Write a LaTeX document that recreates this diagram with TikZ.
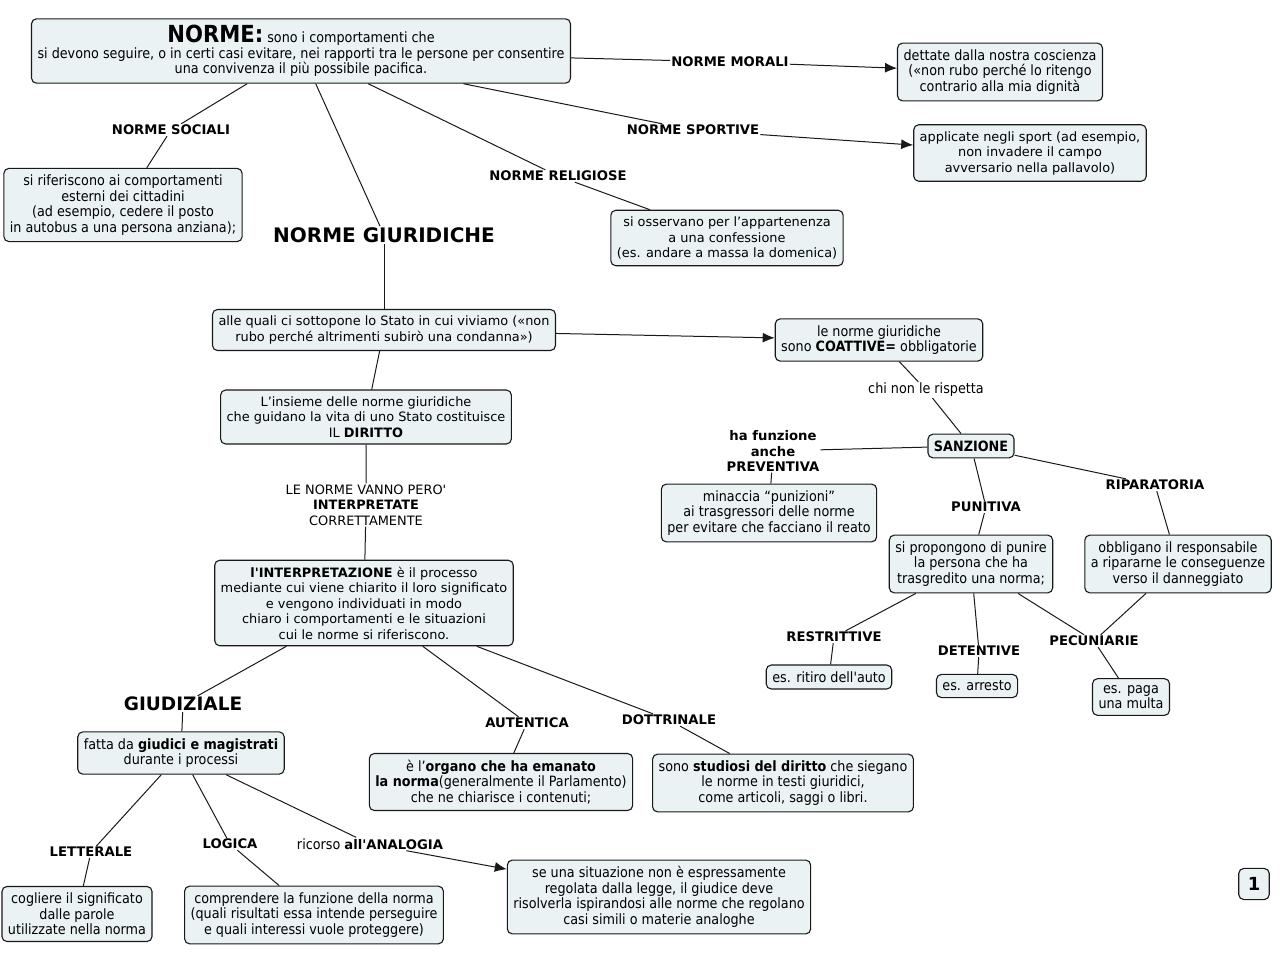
\documentclass[tikz,border=0pt]{standalone}
\usepackage{fontspec}
\setmainfont{DejaVu Sans Condensed}
\newfontfamily\widefont{DejaVu Sans}
\usetikzlibrary{arrows.meta}
\definecolor{boxfill}{RGB}{234,242,244}
\definecolor{ink}{RGB}{25,25,25}
\tikzset{
  concept/.style={draw=ink, line width=1.1pt, rounded corners=5pt, fill=boxfill, align=center,
    inner xsep=6pt, inner ysep=6.5pt, font=\fontsize{14.2}{15.5}\selectfont},
  wideconcept/.style={concept, font=\widefont\fontsize{12.9}{15.5}\selectfont},
  tag/.style={font=\widefont\bfseries\fontsize{13.2}{15.5}\selectfont, inner sep=1pt, align=center},
  plaintag/.style={font=\fontsize{14.2}{15.5}\selectfont, inner sep=1pt, align=center},
  link/.style={draw=ink, line width=1pt},
  arrow/.style={link, -{Latex[length=12pt,width=10pt]}},
}
\begin{document}
\begin{tikzpicture}[x=1pt, y=-1pt]
    \useasboundingbox (0,0) rectangle (1280,963);
    % top concept and the five kinds of norms
    \node[concept] (norme) at (301,51) {{\fontsize{23.5}{24}\selectfont\bfseries NORME:} sono i comportamenti che\\si devono seguire, o in certi casi evitare, nei rapporti tra le persone per consentire\\una convivenza il più possibile pacifica.};
    \node[tag] (morali) at (730,62) {NORME MORALI};
    \node[concept] (moralibox) at (1000,72) {dettate dalla nostra coscienza\\(«non rubo perché lo ritengo\\contrario alla mia dignità};
    \node[tag] (sportive) at (693,130) {NORME SPORTIVE};
    \node[wideconcept] (sportivebox) at (1030,153) {applicate negli sport (ad esempio,\\non invadere il campo\\avversario nella pallavolo)};
    \node[tag] (sociali) at (171,130) {NORME SOCIALI};
    \node[concept] (socialibox) at (123,205) {si riferiscono ai comportamenti\\esterni dei cittadini\\(ad esempio, cedere il posto\\in autobus a una persona anziana);};
    \node[tag] (religiose) at (558,176) {NORME RELIGIOSE};
    \node[wideconcept] (religiosebox) at (727,238) {si osservano per l’appartenenza\\a una confessione\\(es. andare a massa la domenica)};
    \node[tag, font=\widefont\bfseries\fontsize{20}{22}\selectfont] (giuridiche) at (384,235) {NORME GIURIDICHE};
    \draw[link] (norme) -- (sociali) -- (socialibox);
    \draw[link] (norme) -- (religiose) -- (religiosebox);
    \draw[link] (norme) -- (giuridiche);
    \draw[link] (norme) -- (morali); \draw[arrow] (morali) -- (moralibox);
    \draw[link] (norme) -- (sportive); \draw[arrow] (sportive) -- (sportivebox);

    % legal norms and sanctions
    \node[wideconcept] (stato) at (384,330) {alle quali ci sottopone lo Stato in cui viviamo («non\\rubo perché altrimenti subirò una condanna»)};
    \node[concept] (coattive) at (879,340) {le norme giuridiche\\sono \textbf{COATTIVE=} obbligatorie};
    \node[plaintag] (rispetta) at (926,390) {chi non le rispetta};
    \node[concept, font=\bfseries\fontsize{14.2}{15.5}\selectfont] (sanzione) at (971,446) {SANZIONE};
    \node[tag] (preventiva) at (773,451) {ha funzione\\anche\\PREVENTIVA};
    \node[concept] (minaccia) at (769,513) {minaccia “punizioni”\\ai trasgressori delle norme\\per evitare che facciano il reato};
    \node[tag] (punitiva) at (986,507) {PUNITIVA};
    \node[concept] (punire) at (971,564) {si propongono di punire\\la persona che ha\\trasgredito una norma;};
    \node[tag] (riparatoria) at (1155,485) {RIPARATORIA};
    \node[concept] (riparare) at (1178,564) {obbligano il responsabile\\a ripararne le conseguenze\\verso il danneggiato};
    \node[tag] (restrittive) at (834,637) {RESTRITTIVE};
    \node[concept] (ritiro) at (829,677) {es. ritiro dell\textquotesingle auto};
    \node[tag] (detentive) at (979,651) {DETENTIVE};
    \node[concept] (arresto) at (977,686) {es. arresto};
    \node[tag] (pecuniarie) at (1094,641) {PECUNIARIE};
    \node[concept] (multa) at (1131,697) {es. paga\\una multa};
    \draw[link] (giuridiche) -- (stato);
    \draw[arrow] (stato) -- (coattive);
    \draw[link] (coattive) -- (rispetta) -- (sanzione);
    \draw[link] (sanzione) -- (preventiva) -- (minaccia);
    \draw[link] (sanzione) -- (punitiva) -- (punire);
    \draw[link] (sanzione) -- (riparatoria) -- (riparare);
    \draw[link] (punire) -- (restrittive) -- (ritiro);
    \draw[link] (punire) -- (detentive) -- (arresto);
    \draw[link] (punire) -- (pecuniarie) -- (multa);
    \draw[link] (riparare) -- (pecuniarie);

    % law and its interpretation
    \node[wideconcept] (diritto) at (366,417) {L’insieme delle norme giuridiche\\che guidano la vita di uno Stato costituisce\\IL \textbf{DIRITTO}};
    \node[plaintag, font=\widefont\fontsize{12.9}{15.5}\selectfont] (interpretate) at (366,505) {LE NORME VANNO PERO\textquotesingle\\\textbf{INTERPRETATE}\\CORRETTAMENTE};
    \node[wideconcept] (interpretazione) at (364,603) {\textbf{l\textquotesingle INTERPRETAZIONE} è il processo\\mediante cui viene chiarito il loro significato\\e vengono individuati in modo\\chiaro i comportamenti e le situazioni\\cui le norme si riferiscono.};
    \node[tag, font=\widefont\bfseries\fontsize{18.5}{20}\selectfont] (giudiziale) at (183,704) {GIUDIZIALE};
    \node[concept] (giudici) at (181,753) {fatta da \textbf{giudici e magistrati}\\durante i processi};
    \node[tag] (autentica) at (527,723) {AUTENTICA};
    \node[concept] (organo) at (501,782) {è l’\textbf{organo che ha emanato}\\\textbf{la norma}(generalmente il Parlamento)\\che ne chiarisce i contenuti;};
    \node[tag] (dottrinale) at (669,720) {DOTTRINALE};
    \node[concept] (studiosi) at (783,783) {sono \textbf{studiosi del diritto} che siegano\\le norme in testi giuridici,\\come articoli, saggi o libri.};
    \node[tag] (letterale) at (91,852) {LETTERALE};
    \node[concept] (parole) at (77,914) {cogliere il significato\\dalle parole\\utilizzate nella norma};
    \node[tag] (logica) at (230,844) {LOGICA};
    \node[concept] (funzione) at (314,915) {comprendere la funzione della norma\\(quali risultati essa intende perseguire\\e quali interessi vuole proteggere)};
    \node[plaintag] (analogia) at (370,844) {ricorso \textbf{\widefont\fontsize{13.2}{15.5}\selectfont all\textquotesingle ANALOGIA}};
    \node[concept] (analoghe) at (659,897) {se una situazione non è espressamente\\regolata dalla legge, il giudice deve\\risolverla ispirandosi alle norme che regolano\\casi simili o materie analoghe};
    \draw[link] (stato) -- (diritto);
    \draw[link] (diritto) -- (interpretate) -- (interpretazione);
    \draw[link] (interpretazione) -- (giudiziale) -- (giudici);
    \draw[link] (interpretazione) -- (autentica) -- (organo);
    \draw[link] (interpretazione) -- (dottrinale) -- (studiosi);
    \draw[link] (giudici) -- (letterale) -- (parole);
    \draw[link] (giudici) -- (logica) -- (funzione);
    \draw[link] (giudici) -- (analogia); \draw[arrow] (analogia) -- (analoghe);

    % page number
    \node[concept, inner sep=9pt, font=\widefont\bfseries\fontsize{18}{18}\selectfont] (pagina) at (1254,884) {1};
\end{tikzpicture}
\end{document}
